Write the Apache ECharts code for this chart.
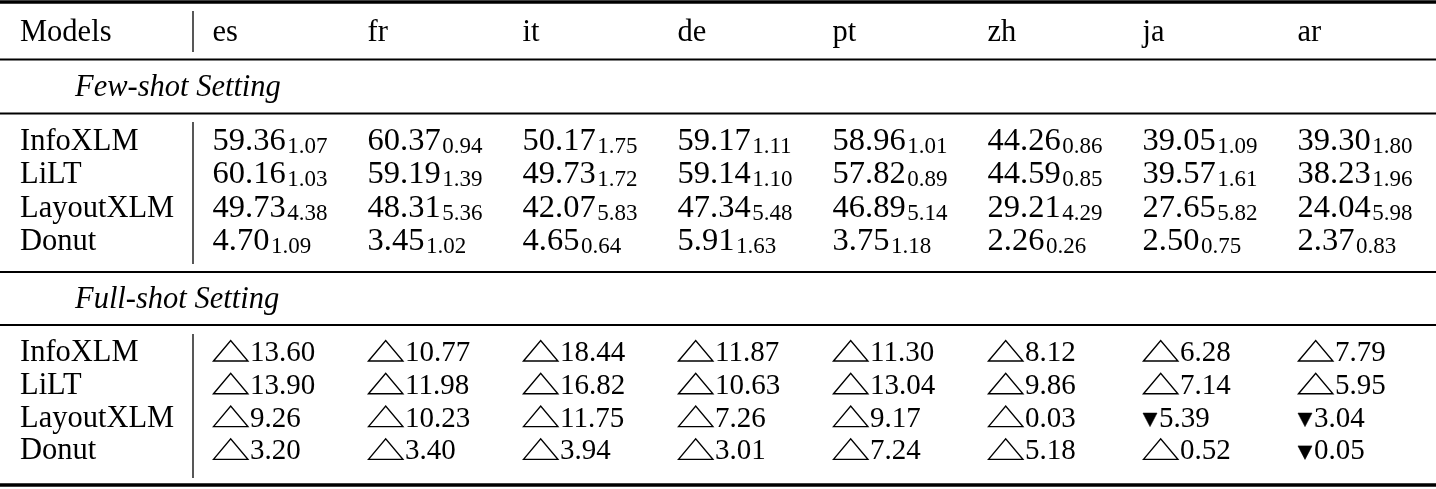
<!DOCTYPE html>
<html>
<head>
<meta charset="utf-8">
<script src="https://cdn.jsdelivr.net/npm/echarts@6/dist/echarts.min.js"></script>
<style>
html,body{margin:0;padding:0;background:#ffffff;}
#chart{width:1436px;height:489px;}
</style>
</head>
<body>
<div id="chart"></div>
<script>
// ---------------- data ----------------
const headerLabel = 'Models';
const languages = ['es', 'fr', 'it', 'de', 'pt', 'zh', 'ja', 'ar'];
const models = ['InfoXLM', 'LiLT', 'LayoutXLM', 'Donut'];
const sectionTitles = ['Few-shot Setting', 'Full-shot Setting'];

// Few-shot setting: mean and std (subscript)
const fewInfoXLM       = [59.36, 60.37, 50.17, 59.17, 58.96, 44.26, 39.05, 39.30];
const fewInfoXLMStd    = [1.07, 0.94, 1.75, 1.11, 1.01, 0.86, 1.09, 1.80];
const fewLiLT          = [60.16, 59.19, 49.73, 59.14, 57.82, 44.59, 39.57, 38.23];
const fewLiLTStd       = [1.03, 1.39, 1.72, 1.10, 0.89, 0.85, 1.61, 1.96];
const fewLayoutXLM     = [49.73, 48.31, 42.07, 47.34, 46.89, 29.21, 27.65, 24.04];
const fewLayoutXLMStd  = [4.38, 5.36, 5.83, 5.48, 5.14, 4.29, 5.82, 5.98];
const fewDonut         = [4.70, 3.45, 4.65, 5.91, 3.75, 2.26, 2.50, 2.37];
const fewDonutStd      = [1.09, 1.02, 0.64, 1.63, 1.18, 0.26, 0.75, 0.83];

// Full-shot setting: change relative to few-shot (negative = drop)
const fullInfoXLM   = [13.60, 10.77, 18.44, 11.87, 11.30, 8.12, 6.28, 7.79];
const fullLiLT      = [13.90, 11.98, 16.82, 10.63, 13.04, 9.86, 7.14, 5.95];
const fullLayoutXLM = [9.26, 10.23, 11.75, 7.26, 9.17, 0.03, -5.39, -3.04];
const fullDonut     = [3.20, 3.40, 3.94, 3.01, 7.24, 5.18, 0.52, -0.05];

const fewMeans = [fewInfoXLM, fewLiLT, fewLayoutXLM, fewDonut];
const fewStds  = [fewInfoXLMStd, fewLiLTStd, fewLayoutXLMStd, fewDonutStd];
const fullDeltas = [fullInfoXLM, fullLiLT, fullLayoutXLM, fullDonut];

// ---------------- layout (pixels of the 1436 x 489 page) ----------------
const W = 1436, H = 489;
const COL0 = 212.5, COLSTEP = 155;         // first language column and spacing
const X_MIN = -COL0 / COLSTEP, X_MAX = (W - COL0) / COLSTEP;
const MODEL_X = (20 - COL0) / COLSTEP;
const TITLE_X = (75 - COL0) / COLSTEP;
const SEP_X = (193 - COL0) / COLSTEP;

const HEADER_BASE = 40.5;
const TITLE_BASES = [96, 308];
const FEW_BASES = [150, 183.3, 216.6, 249.9];
const FULL_BASES = [361, 393.8, 426.6, 459.4];
const THICK_RULES = [2, 485];
const THIN_RULES = [59.5, 113.5, 272, 325];
const SEPARATORS = [[11, 52], [122, 264], [334, 478]];

const TEXT_FONT = "'Liberation Serif', 'Times New Roman', serif";
const TEXT_SIZE = 30.5, NUM_SIZE = 32.5, SUB_SIZE = 23, FULL_SIZE = 29;

// measuring helpers
const mctx = document.createElement('canvas').getContext('2d');
function textWidth(t, size, style) {
  mctx.font = (style || 'normal') + ' ' + size + 'px ' + TEXT_FONT;
  return mctx.measureText(t).width;
}
function midOffset(size, style) {
  mctx.font = (style || 'normal') + ' ' + size + 'px ' + TEXT_FONT;
  mctx.textBaseline = 'middle';
  const m = mctx.measureText('H');
  mctx.textBaseline = 'alphabetic';
  return m.actualBoundingBoxDescent;
}
function textEl(x, base, t, size, style) {
  return {
    type: 'text', x: x, y: base - midOffset(size, style), silent: true,
    style: {
      text: t, fontSize: size, fontFamily: TEXT_FONT, fontStyle: style || 'normal',
      fill: '#000', align: 'left', verticalAlign: 'middle',
      textAlign: 'left', textVerticalAlign: 'middle'
    }
  };
}

// ---------------- series data ----------------
const headerData = [[MODEL_X, HEADER_BASE, -1]].concat(languages.map((l, i) => [i, HEADER_BASE, i]));
const titleData = sectionTitles.map((t, i) => [TITLE_X, TITLE_BASES[i], i]);
const modelData = [];
models.forEach((m, r) => { modelData.push([MODEL_X, FEW_BASES[r], r]); });
models.forEach((m, r) => { modelData.push([MODEL_X, FULL_BASES[r], r]); });

const fewData = [];
fewMeans.forEach((arr, r) => arr.forEach((v, c) => fewData.push([c, FEW_BASES[r], v, fewStds[r][c]])));
const fullData = [];
fullDeltas.forEach((arr, r) => arr.forEach((v, c) => fullData.push([c, FULL_BASES[r], v])));

const ruleData = THICK_RULES.map(y => [0, y, 3.4]).concat(THIN_RULES.map(y => [0, y, 2.0]));
const sepData = SEPARATORS.map(s => [SEP_X, s[0], s[1]]);

const option = {
  animation: false,
  backgroundColor: '#ffffff',
  grid: { left: 0, right: 0, top: 0, bottom: 0 },
  xAxis: { type: 'value', min: X_MIN, max: X_MAX, show: false },
  yAxis: { type: 'value', min: 0, max: H, inverse: true, show: false },
  series: [
    {
      type: 'custom', name: 'rules', clip: false, data: ruleData,
      renderItem: (params, api) => {
        const y = api.value(1);
        const a = api.coord([X_MIN, y]), b = api.coord([X_MAX, y]);
        return { type: 'line', silent: true,
          shape: { x1: a[0], y1: a[1], x2: b[0], y2: b[1] },
          style: { stroke: '#000', lineWidth: api.value(2) } };
      }
    },
    {
      type: 'custom', name: 'separators', clip: false, data: sepData,
      renderItem: (params, api) => {
        const a = api.coord([api.value(0), api.value(1)]);
        const b = api.coord([api.value(0), api.value(2)]);
        return { type: 'line', silent: true,
          shape: { x1: a[0], y1: a[1], x2: b[0], y2: b[1] },
          style: { stroke: '#111', lineWidth: 1.4 } };
      }
    },
    {
      type: 'custom', name: 'header', clip: false, data: headerData,
      renderItem: (params, api) => {
        const p = api.coord([api.value(0), api.value(1)]);
        const idx = api.value(2);
        const t = idx < 0 ? headerLabel : languages[idx];
        return textEl(p[0], p[1], t, TEXT_SIZE);
      }
    },
    {
      type: 'custom', name: 'titles', clip: false, data: titleData,
      renderItem: (params, api) => {
        const p = api.coord([api.value(0), api.value(1)]);
        return textEl(p[0], p[1], sectionTitles[api.value(2)], TEXT_SIZE, 'italic');
      }
    },
    {
      type: 'custom', name: 'models', clip: false, data: modelData,
      renderItem: (params, api) => {
        const p = api.coord([api.value(0), api.value(1)]);
        return textEl(p[0], p[1], models[api.value(2)], TEXT_SIZE);
      }
    },
    {
      type: 'custom', name: 'few-shot', clip: false, data: fewData,
      renderItem: (params, api) => {
        const p = api.coord([api.value(0), api.value(1)]);
        const mean = api.value(2).toFixed(2), sd = api.value(3).toFixed(2);
        const w = textWidth(mean, NUM_SIZE);
        return { type: 'group', children: [
          textEl(p[0], p[1], mean, NUM_SIZE),
          textEl(p[0] + w + 1.5, p[1] + 3, sd, SUB_SIZE)
        ] };
      }
    },
    {
      type: 'custom', name: 'full-shot', clip: false, data: fullData,
      renderItem: (params, api) => {
        const p = api.coord([api.value(0), api.value(1)]);
        const v = api.value(2);
        const x = p[0], b = p[1];
        const children = [];
        let tx;
        if (v >= 0) {
          children.push({ type: 'polygon', silent: true,
            shape: { points: [[x + 1, b], [x + 18.2, b - 20.5], [x + 35.4, b]] },
            style: { fill: 'none', stroke: '#000', lineWidth: 1.4, lineJoin: 'miter' } });
          tx = x + 37.5;
        } else {
          children.push({ type: 'polygon', silent: true,
            shape: { points: [[x + 0.5, b - 13.5], [x + 14.5, b - 13.5], [x + 7.5, b]] },
            style: { fill: '#000', stroke: '#000', lineWidth: 0.6 } });
          tx = x + 16.5;
        }
        children.push(textEl(tx, b, Math.abs(v).toFixed(2), FULL_SIZE));
        return { type: 'group', children: children };
      }
    }
  ]
};

const chart = echarts.init(document.getElementById('chart'), null, { renderer: 'canvas' });
chart.setOption(option);
</script>
</body>
</html>
